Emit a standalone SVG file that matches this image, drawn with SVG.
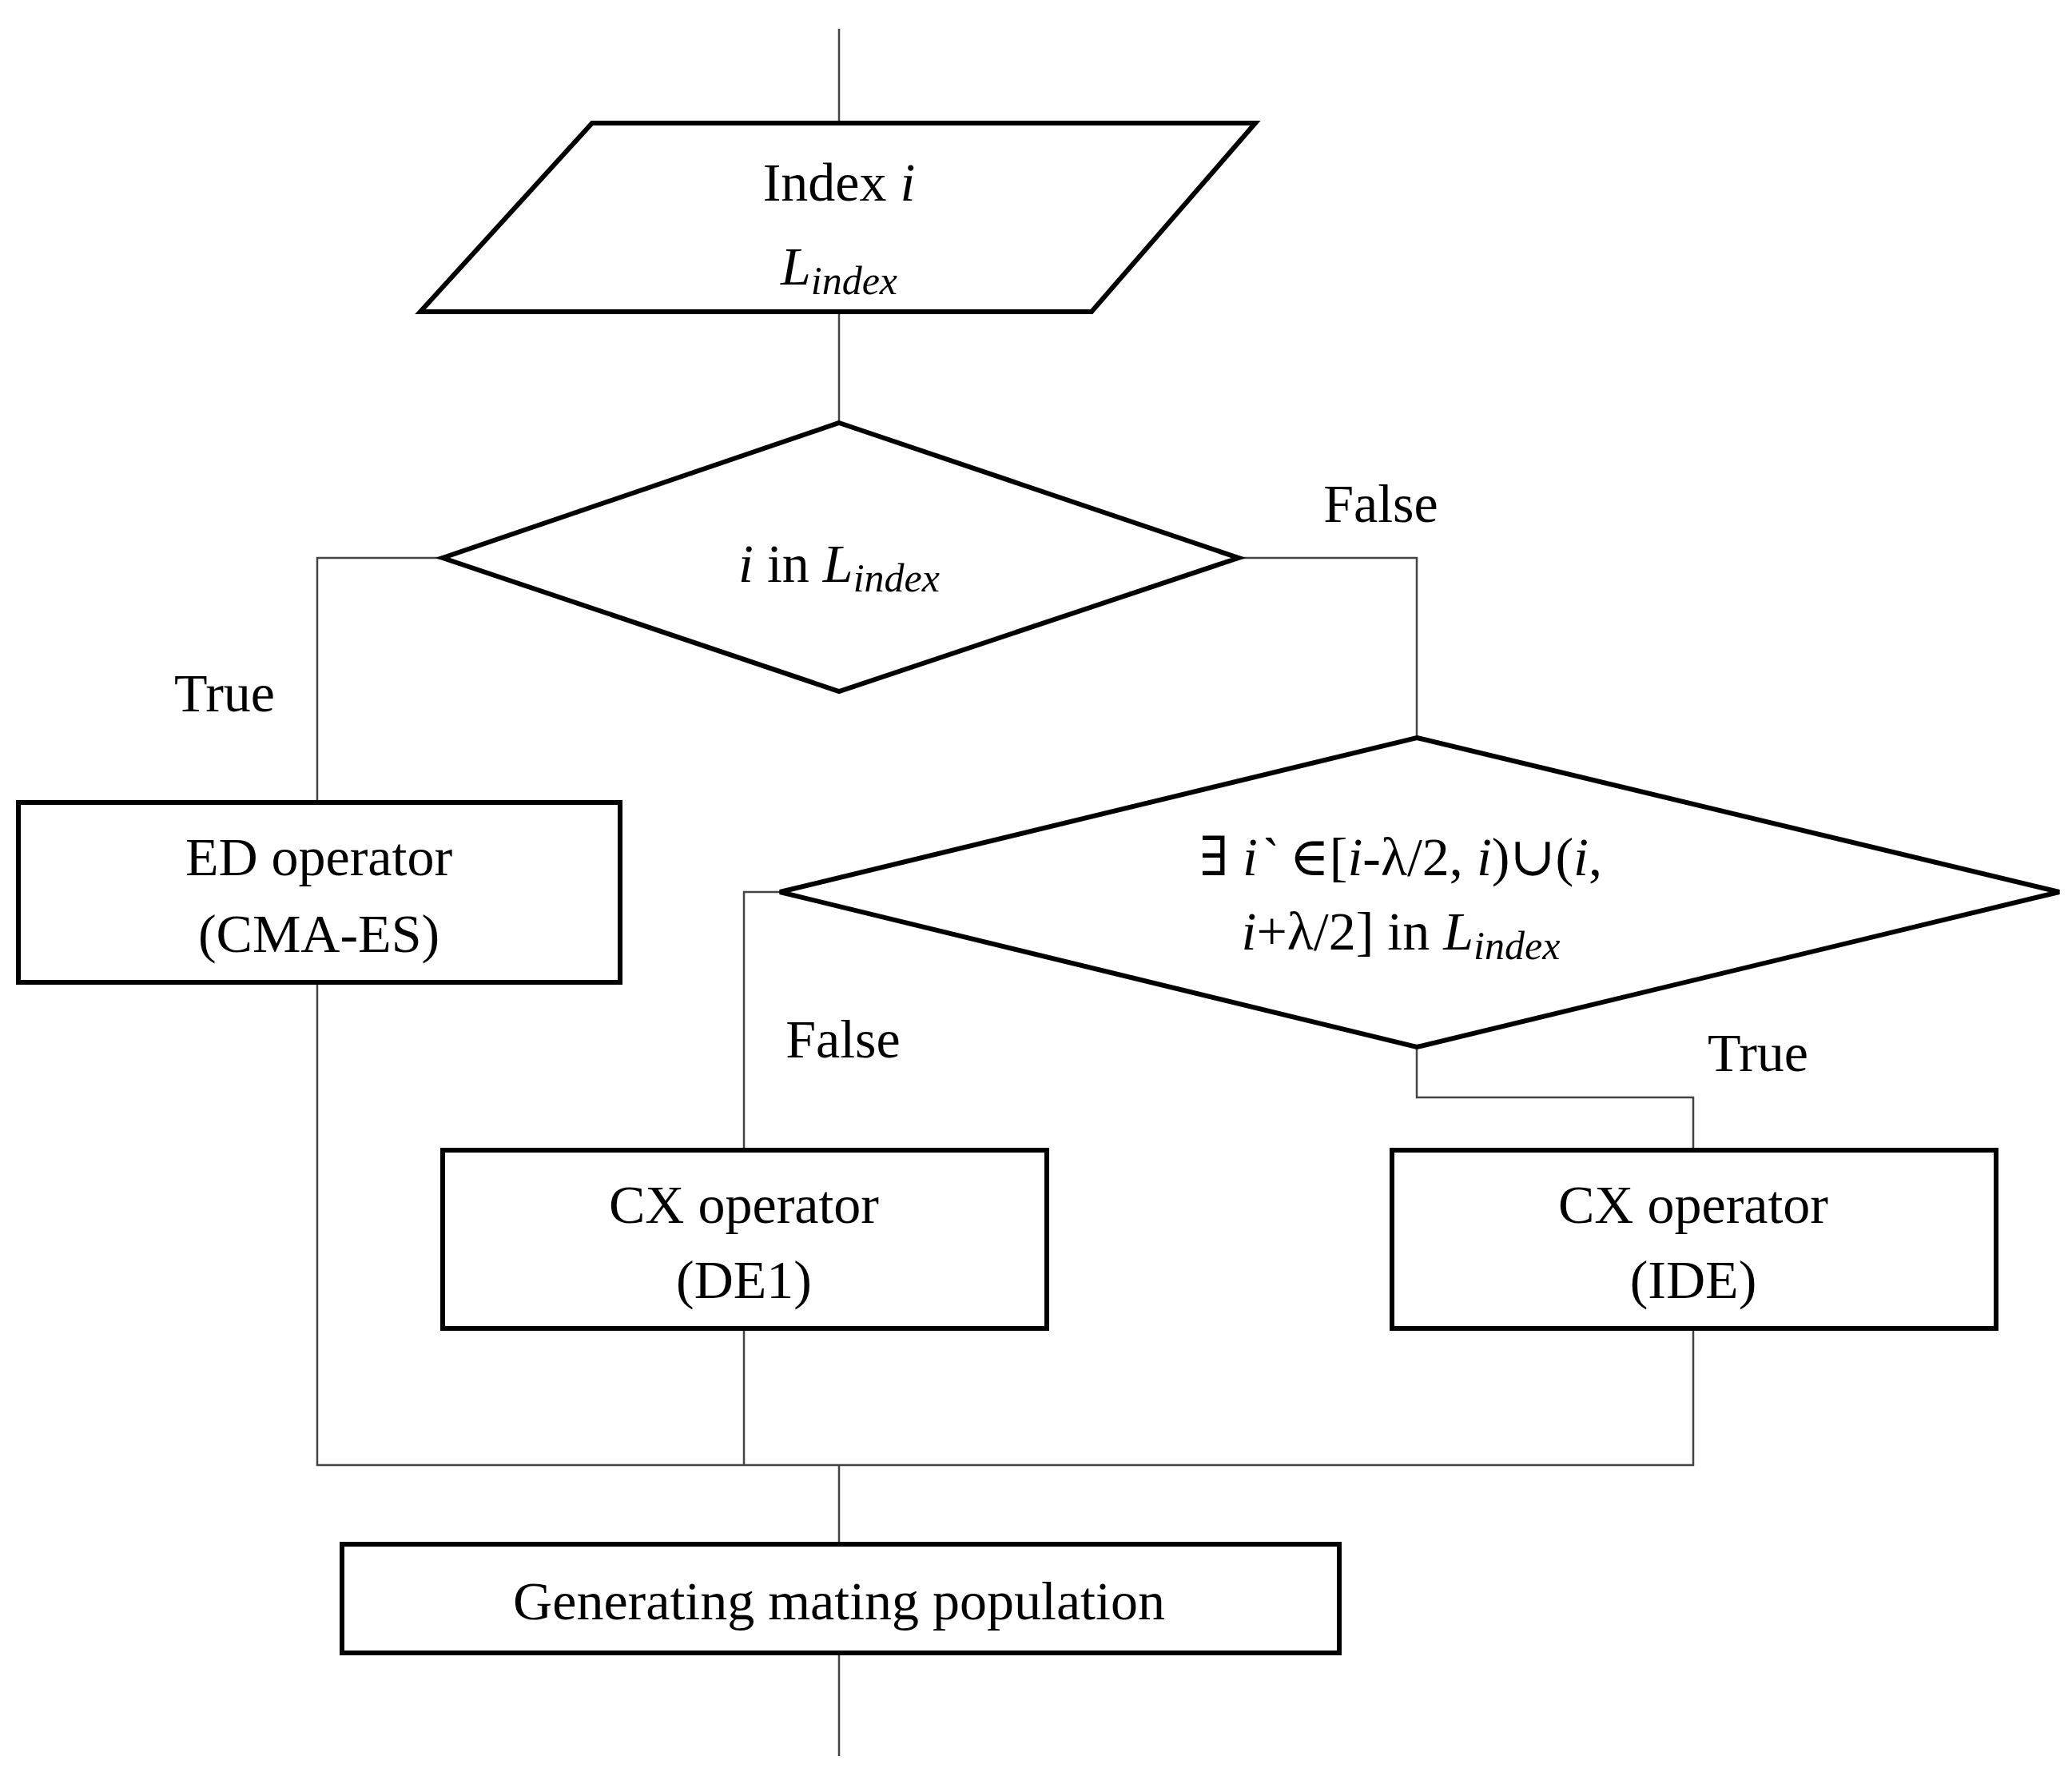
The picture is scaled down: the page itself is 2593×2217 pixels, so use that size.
<svg xmlns="http://www.w3.org/2000/svg" width="2593" height="2217" viewBox="0 0 2593 2217">
<style>
.n{fill:#fff;stroke:#000;stroke-width:6}
.c{fill:none;stroke:#444;stroke-width:2.5}
text{font-family:"Liberation Serif","DejaVu Serif",serif;font-size:68px;fill:#000}
.m{text-anchor:middle}
.i{font-style:italic}
.s{font-style:italic;font-size:50px}
</style>
<rect width="2593" height="2217" fill="#fff"/>
<g id="connectors">
<path class="c" d="M1050 36V154M1050 390V529"/>
<path class="c" d="M554 698H397V1004"/>
<path class="c" d="M1550 698H1773V923"/>
<path class="c" d="M976 1116H931V1439"/>
<path class="c" d="M1773 1310V1373H2119V1439"/>
<path class="c" d="M397 1229V1833H2119V1662M931 1662V1833"/>
<path class="c" d="M1050 1833V1932M1050 2068V2197"/>
</g>
<g id="input"><polygon class="n" points="741,154 1571,154 1366,390 526,390"/>
<text x="1050" y="251" class="m">Index <tspan class="i">i</tspan></text>
<text x="1050" y="356" class="m"><tspan class="i">L</tspan><tspan class="s" dy="12">index</tspan></text></g>
<g id="dec1"><polygon class="n" points="1050,529 1550,698 1050,865 554,698"/>
<text x="1050" y="728" class="m"><tspan class="i">i</tspan> in <tspan class="i">L</tspan><tspan class="s" dy="12">index</tspan></text></g>
<text x="281" y="890" class="m">True</text>
<text x="1728" y="653" class="m">False</text>
<g id="ed"><rect class="n" x="23" y="1004" width="753" height="225"/>
<text x="399" y="1095" class="m">ED operator</text><text x="399" y="1191" class="m">(CMA-ES)</text></g>
<g id="dec2"><polygon class="n" points="1773,923 2577,1116 1773,1310 976,1116"/>
<text x="1753" y="1095" class="m">∃ <tspan class="i">i`</tspan> ∈[<tspan class="i">i</tspan>-λ/2, <tspan class="i">i</tspan>)∪(<tspan class="i">i</tspan>,</text>
<text x="1753" y="1188" class="m"><tspan class="i">i</tspan>+λ/2] in <tspan class="i">L</tspan><tspan class="s" dy="12">index</tspan></text></g>
<text x="1055" y="1323" class="m">False</text>
<text x="2200" y="1340" class="m">True</text>
<g id="de1"><rect class="n" x="554" y="1439" width="756" height="223"/>
<text x="931" y="1530" class="m">CX operator</text><text x="931" y="1624" class="m">(DE1)</text></g>
<g id="ide"><rect class="n" x="1742" y="1439" width="756" height="223"/>
<text x="2119" y="1530" class="m">CX operator</text><text x="2119" y="1624" class="m">(IDE)</text></g>
<g id="gen"><rect class="n" x="428" y="1932" width="1248" height="136"/>
<text x="1050" y="2026" class="m">Generating mating population</text></g>
</svg>
